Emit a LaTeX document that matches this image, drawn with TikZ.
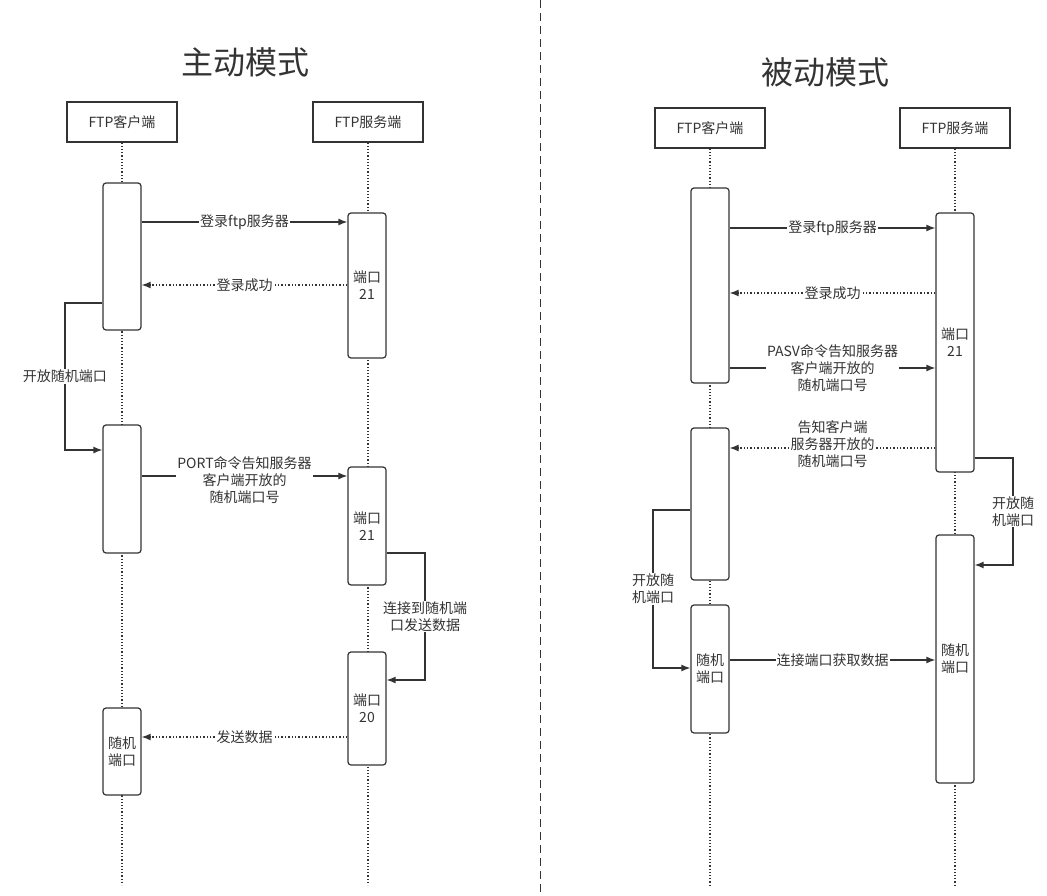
\documentclass[tikz,border=0pt]{standalone}
\usepackage{fontspec}
\setmainfont{Noto Sans CJK SC}
\usetikzlibrary{arrows.meta}
\begin{document}
\begin{tikzpicture}[x=1pt,y=-1pt,
  every node/.style={font=\fontsize{14}{17}\selectfont,text=black!80},
  head/.style={draw=black!80,line width=1.2pt,minimum width=110pt,minimum height=40pt,inner sep=0pt},
  act/.style={draw=black!80,line width=1.2pt,rounded corners=3pt,fill=white,minimum width=38pt,inner sep=0pt,align=center},
  life/.style={black!80,line width=1.2pt,dotted},
  msg/.style={black!80,line width=1.4pt,-{Latex[length=9pt,width=7pt]}},
  ret/.style={msg,dotted},
  lbl/.style={fill=white,inner sep=1pt,align=center},
  title/.style={font=\fontsize{32}{36}\selectfont}]
\useasboundingbox (0,0) rectangle (1047,896);
\draw[black!80,line width=1pt,dash pattern=on 8pt off 5pt] (540,0) -- (540,896);
% ---------- active mode
\node[title] (t1) at (245,62) {主动模式};
\node[head] (lc) at (122,122) {FTP客户端};
\node[head] (ls) at (368,122) {FTP服务端};
\draw[life] (lc.south) -- (122,885);
\draw[life] (ls.south) -- (368,885);
\node[act,minimum height=147pt] (lc1) at (122,256.5) {};
\node[act,minimum height=145pt] (ls1) at (367,285.5) {端口\\21};
\node[act,minimum height=128pt] (lc2) at (122,489) {};
\node[act,minimum height=118pt] (ls2) at (367,526) {端口\\21};
\node[act,minimum height=113pt] (ls3) at (367,708.5) {端口\\20};
\node[act,minimum height=87pt] (lc3) at (122,751.5) {随机\\端口};
\draw[msg] (lc1.east|-0,222) -- node[lbl] {登录ftp服务器} (ls1.west|-0,222);
\draw[ret] (ls1.west|-0,285) -- node[lbl] {登录成功} (lc1.east|-0,285);
\draw[msg] (lc1.west|-0,303) -- (65,303) -- node[lbl,pos=0.5] {开放随机端口} (65,450) -- (lc2.west|-0,450);
\draw[msg] (lc2.east|-0,476) -- node[lbl,yshift=-4pt] {PORT命令告知服务器\\客户端开放的\\随机端口号} (ls2.west|-0,476);
\draw[msg] (ls2.east|-0,553) -- (425,553) -- node[lbl] {连接到随机端\\口发送数据} (425,680) -- (ls3.east|-0,680);
\draw[ret] (ls3.west|-0,737) -- node[lbl] {发送数据} (lc3.east|-0,737);
% ---------- passive mode
\node[title] (t2) at (825,72) {被动模式};
\node[head] (rc) at (710,128) {FTP客户端};
\node[head] (rs) at (955,128) {FTP服务端};
\draw[life] (rc.south) -- (710,885);
\draw[life] (rs.south) -- (955,885);
\node[act,minimum height=195pt] (rc1) at (710,285.5) {};
\node[act,minimum height=259pt] (rs1) at (955,342.5) {端口\\21};
\node[act,minimum height=152pt] (rc2) at (710,504) {};
\node[act,minimum height=128pt] (rc3) at (710,669) {随机\\端口};
\node[act,minimum height=248pt] (rs2) at (955,659) {随机\\端口};
\draw[msg] (rc1.east|-0,228) -- node[lbl] {登录ftp服务器} (rs1.west|-0,228);
\draw[ret] (rs1.west|-0,293) -- node[lbl] {登录成功} (rc1.east|-0,293);
\draw[msg] (rc1.east|-0,368) -- node[lbl] {PASV命令告知服务器\\客户端开放的\\随机端口号} (rs1.west|-0,368);
\draw[ret] (rs1.west|-0,448) -- node[lbl,yshift=4pt] {告知客户端\\服务器开放的\\随机端口号} (rc2.east|-0,448);
\draw[msg] (rs1.east|-0,458) -- (1013,458) -- node[lbl] {开放随\\机端口} (1013,565) -- (rs2.east|-0,565);
\draw[msg] (rc2.west|-0,510) -- (653,510) -- node[lbl] {开放随\\机端口} (653,668) -- (rc3.west|-0,668);
\draw[msg] (rc3.east|-0,660) -- node[lbl] {连接端口获取数据} (rs2.west|-0,660);
\end{tikzpicture}
\end{document}
